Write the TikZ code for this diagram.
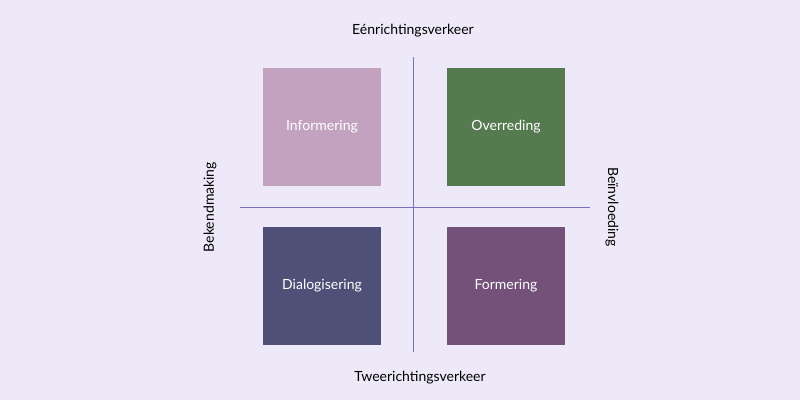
\documentclass[tikz,border=0pt]{standalone}
\usepackage{fontspec}
\setmainfont{Lato}
\definecolor{bg}{HTML}{EEE9F9}
\definecolor{c1}{HTML}{C3A2C0}
\definecolor{c2}{HTML}{557A50}
\definecolor{c3}{HTML}{4F5078}
\definecolor{c4}{HTML}{735179}
\definecolor{ax}{HTML}{7A70C0}
\begin{document}
\begin{tikzpicture}[x=1pt,y=-1pt,
  quad/.style={minimum width=118pt,minimum height=118pt,inner sep=0pt,text=white,font=\fontsize{14}{16}\selectfont},
  lab/.style={font=\fontsize{14}{16}\selectfont,text=black}]
\fill[bg] (0,0) rectangle (800,400);
\useasboundingbox (0,0) rectangle (800,400);
\draw[ax,line width=0.9pt] (413,57) coordinate (t) -- (413,352) coordinate (b);
\draw[ax,line width=0.9pt] (240,207) coordinate (l) -- (590,207) coordinate (r);
\node[quad,fill=c1] (inf) at (322,127) {Informering};
\node[quad,fill=c2] (ove) at (506,127) {Overreding};
\node[quad,fill=c3] (dia) at (322,286) {Dialogisering};
\node[quad,fill=c4] (for) at (506,286) {Formering};
\node[lab] (top) at (413,31) {Eénrichtingsverkeer};
\node[lab] (bot) at (420,378) {Tweerichtingsverkeer};
\node[lab,rotate=90] (lft) at (210,207) {Bekendmaking};
\node[lab,rotate=-90] (rgt) at (612,207) {Beïnvloeding};
\end{tikzpicture}
\end{document}
